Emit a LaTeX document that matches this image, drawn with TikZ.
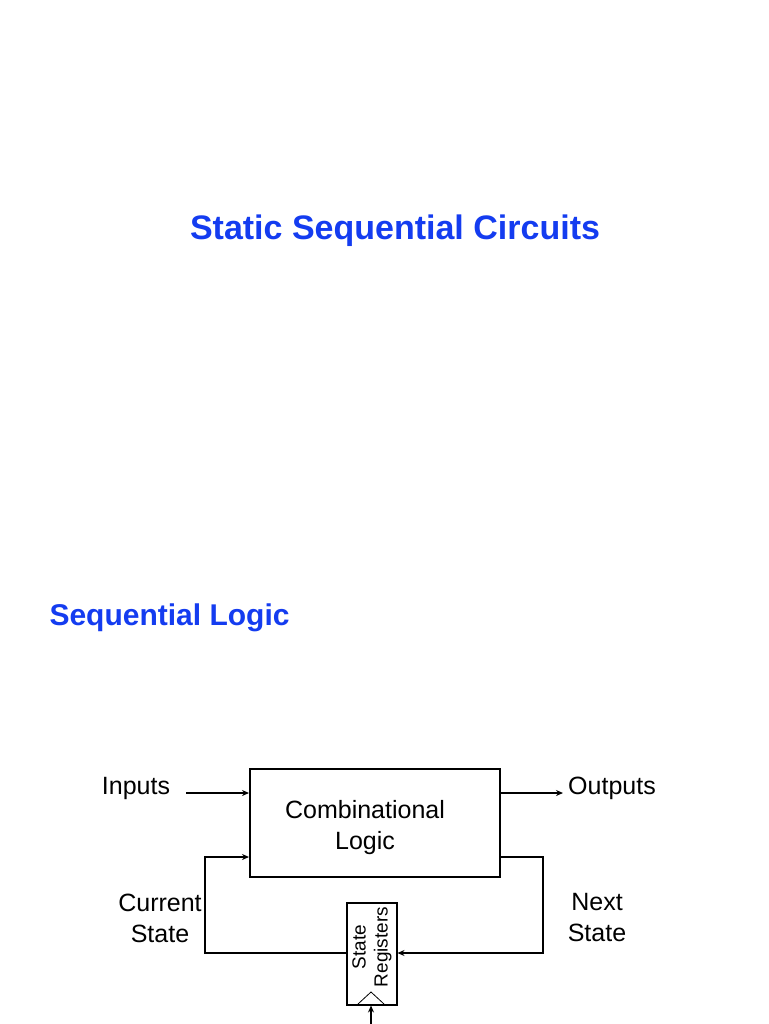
\documentclass[tikz,border=0pt]{standalone}
\usepackage{fontspec}
\setmainfont{Liberation Sans}
\usetikzlibrary{arrows.meta}
\definecolor{tblue}{RGB}{20,60,240}
\begin{document}
\begin{tikzpicture}[x=1pt,y=-1pt,
  lbl/.style={font=\fontsize{25}{31}\selectfont,align=center},
  conn/.style={line width=2pt},
  arr/.style={conn,-{Stealth[length=7pt,width=6pt]}}]
\useasboundingbox (0,0) rectangle (768,1024);
\node[text=tblue,font=\bfseries\fontsize{34}{40}\selectfont] (title) at (395,231) {Static Sequential Circuits};
\node[text=tblue,font=\bfseries\fontsize{30}{36}\selectfont,anchor=west] (sub) at (46,618) {Sequential Logic};
\node[draw,line width=1.5pt,minimum width=250,minimum height=108,anchor=north west] (cl) at (249,768) {};
\node[lbl] (cltxt) at (365,828) {Combinational\\Logic};
\node[draw,line width=1.5pt,minimum width=50,minimum height=102,anchor=north west] (reg) at (346,902) {};
\node[lbl,rotate=90,font=\fontsize{19}{22}\selectfont] (regtxt) at (372,947) {State\\Registers};
\draw[line width=0.8pt] (358,1004) -- (371,992) -- (384,1004);
\node[lbl] (in) at (136,788) {Inputs};
\node[lbl] (out) at (612,788) {Outputs};
\node[lbl] (cs) at (160,918) {Current\\State};
\node[lbl] (ns) at (597,918) {Next\\State};
\coordinate (inS) at (186,793);
\coordinate (clk) at (371,1024);
\draw[arr] (inS) -- (cl.west |- inS);
\draw[arr] (cl.east |- inS) -- (563,793);
\draw[arr] (cl.east |- 0,857) -- (543,857) -- (543,953) -- (reg.east |- 0,953);
\draw[arr] (reg.west |- 0,953) -- (205,953) -- (205,857) -- (cl.west |- 0,857);
\draw[arr] (clk) -- (reg.south -| clk);
\end{tikzpicture}
\end{document}
